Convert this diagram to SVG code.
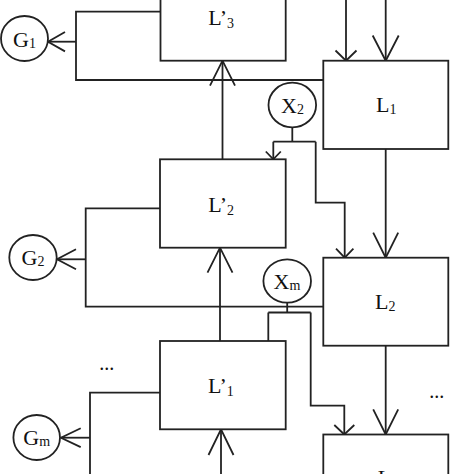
<svg xmlns="http://www.w3.org/2000/svg" width="474" height="474" viewBox="0 0 474 474">
<style>
.box{fill:#fff;stroke:#222;stroke-width:1.8}
.c{fill:none;stroke:#222;stroke-width:1.8;stroke-linejoin:miter}
.lbl{font-family:"Liberation Serif",serif;font-size:22px;fill:#111}
.sub{font-size:14px}
.dots{font-family:"Liberation Serif",serif;font-size:20px;fill:#111}
</style>
<rect width="474" height="474" fill="#fff"/>
<g id="connectors">
<polyline class="c" points="160.5,11.7 76,11.7 76,80 323.3,80"/>
<line class="c" x1="76" y1="41.7" x2="48" y2="41.7"/>
<polyline class="c" points="65,32 48,41.7 65,51.4"/>
<line class="c" x1="346" y1="0" x2="346" y2="60.7"/>
<polyline class="c" points="335.5,50.5 346,60.7 356.5,50.5"/>
<line class="c" x1="385.7" y1="0" x2="385.7" y2="60.7"/>
<polyline class="c" points="372.7,35.5 385.7,60.7 398.7,35.5"/>
<line class="c" x1="222.5" y1="159.3" x2="222.5" y2="60.7"/>
<polyline class="c" points="210,85.7 222.5,60.7 235,85.7"/>
<line class="c" x1="292.3" y1="127.3" x2="292.3" y2="141.7"/>
<line class="c" x1="273.3" y1="141.7" x2="315.7" y2="141.7"/>
<line class="c" x1="273.3" y1="141.7" x2="273.3" y2="159.3"/>
<polyline class="c" points="265.8,151.5 273.3,159.3 280.8,151.5"/>
<polyline class="c" points="315.7,141.7 315.7,202.7 344.7,202.7 344.7,257.7"/>
<polyline class="c" points="336,248.7 344.7,257.7 353.4,248.7"/>
<line class="c" x1="385.7" y1="149" x2="385.7" y2="257.7"/>
<polyline class="c" points="373.2,232.7 385.7,257.7 398.2,232.7"/>
<polyline class="c" points="160,208.3 85.7,208.3 85.7,306.7 323.3,306.7"/>
<line class="c" x1="85.7" y1="259.3" x2="57" y2="259.3"/>
<polyline class="c" points="76,249.3 57,259.3 76,269.3"/>
<line class="c" x1="220" y1="341" x2="220" y2="247.7"/>
<polyline class="c" points="207.5,272.7 220,247.7 232.5,272.7"/>
<line class="c" x1="287.2" y1="302.7" x2="287.2" y2="312.5"/>
<line class="c" x1="268.3" y1="312.5" x2="310.7" y2="312.5"/>
<line class="c" x1="268.3" y1="312.5" x2="268.3" y2="341"/>
<polyline class="c" points="310.7,312.5 310.7,405.7 344.3,405.7 344.3,434.5"/>
<polyline class="c" points="334.3,425 344.3,434.5 354.3,425"/>
<line class="c" x1="385.7" y1="345.7" x2="385.7" y2="434.5"/>
<polyline class="c" points="373.2,409.3 385.7,434.5 398.2,409.3"/>
<polyline class="c" points="160,392.7 90,392.7 90,476"/>
<line class="c" x1="90" y1="437.7" x2="61" y2="437.7"/>
<polyline class="c" points="80.7,428.3 61,437.7 80.7,447.1"/>
<line class="c" x1="221" y1="476" x2="221" y2="429.3"/>
<polyline class="c" points="208.5,455 221,429.3 233.5,455"/>
</g>
<g id="Lp3"><rect class="box" x="160.5" y="-20" width="125.2" height="80.7"/>
<text class="lbl" x="208.3" y="25">L’<tspan class="sub" dy="3">3</tspan></text></g>
<g id="L1"><rect class="box" x="323.3" y="60.7" width="125" height="88.3"/>
<text class="lbl" x="376" y="112.3">L<tspan class="sub" dy="2">1</tspan></text></g>
<g id="Lp2"><rect class="box" x="160" y="159.3" width="125.7" height="88.4"/>
<text class="lbl" x="208.3" y="211.7">L’<tspan class="sub" dy="3">2</tspan></text></g>
<g id="L2"><rect class="box" x="323.3" y="257.7" width="125" height="88"/>
<text class="lbl" x="375" y="309.3">L<tspan class="sub" dy="2">2</tspan></text></g>
<g id="Lp1"><rect class="box" x="160" y="341" width="125.7" height="88.3"/>
<text class="lbl" x="208" y="393.3">L’<tspan class="sub" dy="3">1</tspan></text></g>
<g id="L3"><rect class="box" x="323.3" y="434.5" width="125" height="60"/>
<text class="lbl" x="377.7" y="484.5">L<tspan class="sub" dy="2">3</tspan></text></g>
<g id="G1"><ellipse class="box" cx="24.5" cy="38.5" rx="23.5" ry="22.5"/>
<text class="lbl" x="24.5" y="46.7" text-anchor="middle">G<tspan class="sub" dy="1">1</tspan></text></g>
<g id="X2"><ellipse class="box" cx="292.3" cy="105" rx="23.8" ry="22.3"/>
<text class="lbl" x="292.5" y="113.3" text-anchor="middle">X<tspan class="sub" dy="1">2</tspan></text></g>
<g id="G2"><ellipse class="box" cx="33" cy="257.5" rx="23.7" ry="22.5"/>
<text class="lbl" x="33" y="265" text-anchor="middle">G<tspan class="sub" dy="1">2</tspan></text></g>
<g id="Xm"><ellipse class="box" cx="287.2" cy="281" rx="23.8" ry="21.7"/>
<text class="lbl" x="287" y="289.3" text-anchor="middle">X<tspan class="sub" dy="1">m</tspan></text></g>
<g id="Gm"><ellipse class="box" cx="36.7" cy="437.5" rx="23.3" ry="22.5"/>
<text class="lbl" x="36.7" y="445" text-anchor="middle">G<tspan class="sub" dy="1">m</tspan></text></g>
<text class="dots" x="106.7" y="370" text-anchor="middle">...</text>
<text class="dots" x="436.7" y="397.5" text-anchor="middle">...</text>
</svg>
